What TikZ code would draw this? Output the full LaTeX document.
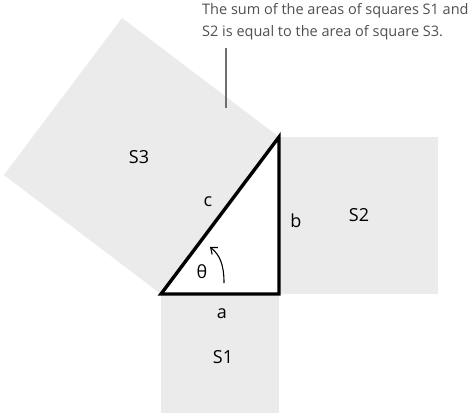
\documentclass[tikz,border=0pt]{standalone}
\usepackage{fontspec}
\setmainfont{Open Sans}
\usetikzlibrary{arrows.meta}
\definecolor{sqgray}{HTML}{EBEBEB}
\definecolor{notegray}{HTML}{505050}
\definecolor{leadgray}{HTML}{6E6E6E}
\begin{document}
\begin{tikzpicture}[x=1pt,y=-1pt,
  sq/.style={fill=sqgray,draw=none},
  tri/.style={fill=white,draw=black,line width=3.4pt,line join=miter},
  lbl/.style={font=\fontsize{18}{21}\selectfont,text=black,inner sep=0pt,anchor=base},
  note/.style={font=\fontsize{14.5}{22}\selectfont,text=notegray,inner sep=0pt,anchor=north west,align=left},
  lead/.style={draw=leadgray,line width=1.4pt},
  rot/.style={draw=black,line width=1.1pt,-{Straight Barb[length=5.5pt,width=9pt]}}]
\useasboundingbox (0,0) rectangle (474,414);
\fill[white] (0,0) rectangle (474,414);
% triangle vertices
\coordinate (A) at (161,294);
\coordinate (B) at (279,294);
\coordinate (C) at (279,137);
% squares
\fill[sq] (A) -- (B) -- (279,413) -- (161,413) -- cycle;
\fill[sq] (C) -- (438,137) -- (438,294) -- (B) -- cycle;
\fill[sq] (A) -- (C) -- (122,18) -- (4,175) -- cycle;
% triangle
\draw[tri] (A) -- (B) -- (C) -- cycle;
% labels
\node[lbl] (s3) at (139,164) {S3};
\node[lbl] (s2) at (359,222) {S2};
\node[lbl] (s1) at (223,363) {S1};
\node[lbl] (la) at (222,318) {a};
\node[lbl] (lb) at (296,228) {b};
\node[lbl] (lc) at (208,207) {c};
\node[lbl] (th) at (202,279) {θ};
% rotation arrow
\coordinate (r0) at (224,283);
\coordinate (r1) at (210,247);
\draw[rot] (r0) .. controls (224,265) and (220,255) .. (r1);
% callout
\node[note] (note) at (202,3) {The sum of the areas of squares S1 and\\S2 is equal to the area of square S3.};
\coordinate (lt) at (226,48);
\coordinate (lbot) at (226,108);
\draw[lead] (lt) -- (lbot);
\end{tikzpicture}
\end{document}
